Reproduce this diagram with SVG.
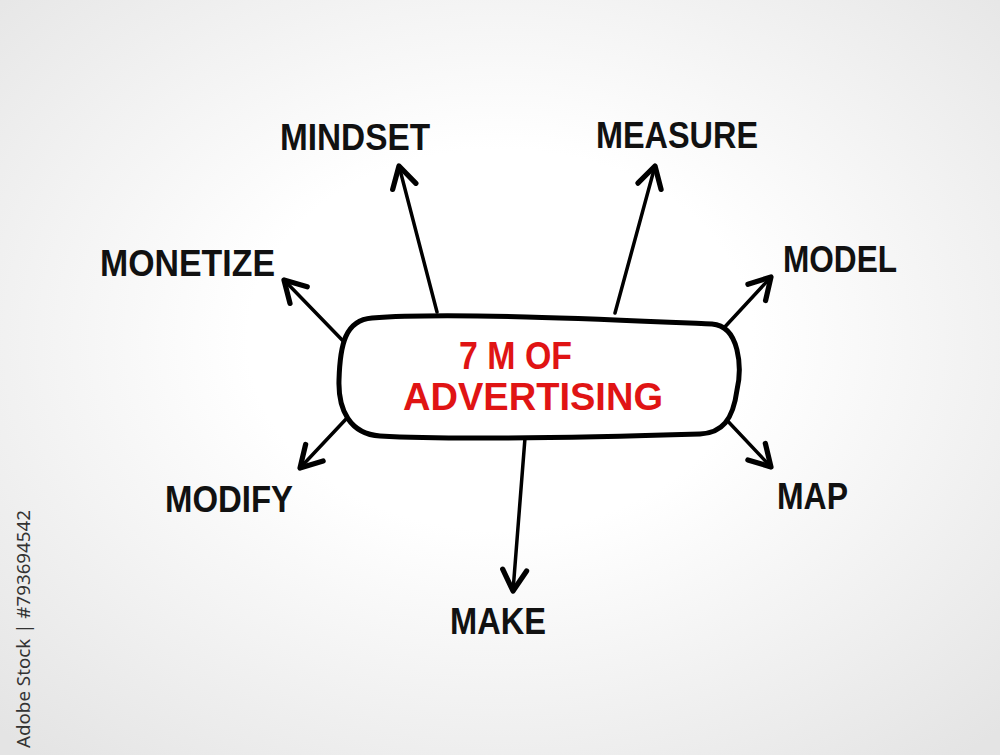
<svg xmlns="http://www.w3.org/2000/svg" width="1000" height="755" viewBox="0 0 1000 755">
<defs>
<radialGradient id="bg" cx="50%" cy="45%" r="72%">
<stop offset="0.35" stop-color="#ffffff"/>
<stop offset="1" stop-color="#e4e4e4"/>
</radialGradient>
<marker id="arr" markerUnits="userSpaceOnUse" markerWidth="30" markerHeight="30" refX="16" refY="10" orient="auto" viewBox="0 0 20 20">
<path d="M2,2 L16,10 L2,18" fill="none" stroke="#000" stroke-width="3.5" stroke-linecap="round" stroke-linejoin="round"/>
</marker>
<style>
.lbl{font-family:"Liberation Sans",Arial,sans-serif;font-weight:bold;font-size:37px;fill:#111;}
.ttl{font-family:"Liberation Sans",Arial,sans-serif;font-weight:bold;font-size:39px;fill:#e01414;}
.conn{stroke:#000;stroke-width:3.5;fill:none;stroke-linecap:round;marker-end:url(#arr);}
</style>
</defs>
<rect width="1000" height="755" fill="url(#bg)"/>
<text x="30" y="748" transform="rotate(-90 30 748)" font-family="Noto Sans, sans-serif" font-size="18" fill="#333" textLength="238" lengthAdjust="spacingAndGlyphs">Adobe Stock | #793694542</text>
<g id="connectors">
<line class="conn" x1="437" y1="312" x2="399" y2="166"/>
<line class="conn" x1="615" y1="313" x2="655" y2="166"/>
<line class="conn" x1="722" y1="330" x2="771" y2="277"/>
<line class="conn" x1="722" y1="415" x2="771" y2="467"/>
<line class="conn" x1="525" y1="438" x2="513" y2="591"/>
<line class="conn" x1="347" y1="418" x2="300" y2="468"/>
<line class="conn" x1="347" y1="345" x2="284" y2="280"/>
</g>
<g id="center">
<path d="M372,318 C450,312 620,320 712,324 C740,326 742,368 737,390 C733,420 722,433 700,434 C600,437 450,440 380,436 C350,434 338,410 339,380 C340,345 345,320 372,318 Z" fill="#ffffff" stroke="#000" stroke-width="5"/>
<text class="ttl" x="459" y="369" textLength="113" lengthAdjust="spacingAndGlyphs">7 M OF</text>
<text class="ttl" x="403" y="410" textLength="260" lengthAdjust="spacingAndGlyphs">ADVERTISING</text>
</g>
<g id="mindset"><text class="lbl" x="280" y="150" textLength="150" lengthAdjust="spacingAndGlyphs">MINDSET</text></g>
<g id="measure"><text class="lbl" x="596" y="148" textLength="162" lengthAdjust="spacingAndGlyphs">MEASURE</text></g>
<g id="model"><text class="lbl" x="783" y="272" textLength="114" lengthAdjust="spacingAndGlyphs">MODEL</text></g>
<g id="monetize"><text class="lbl" x="100" y="276" textLength="175" lengthAdjust="spacingAndGlyphs">MONETIZE</text></g>
<g id="modify"><text class="lbl" x="165" y="512" textLength="128" lengthAdjust="spacingAndGlyphs">MODIFY</text></g>
<g id="map"><text class="lbl" x="777" y="509" textLength="71" lengthAdjust="spacingAndGlyphs">MAP</text></g>
<g id="make"><text class="lbl" x="450" y="634" textLength="96" lengthAdjust="spacingAndGlyphs">MAKE</text></g>
</svg>
